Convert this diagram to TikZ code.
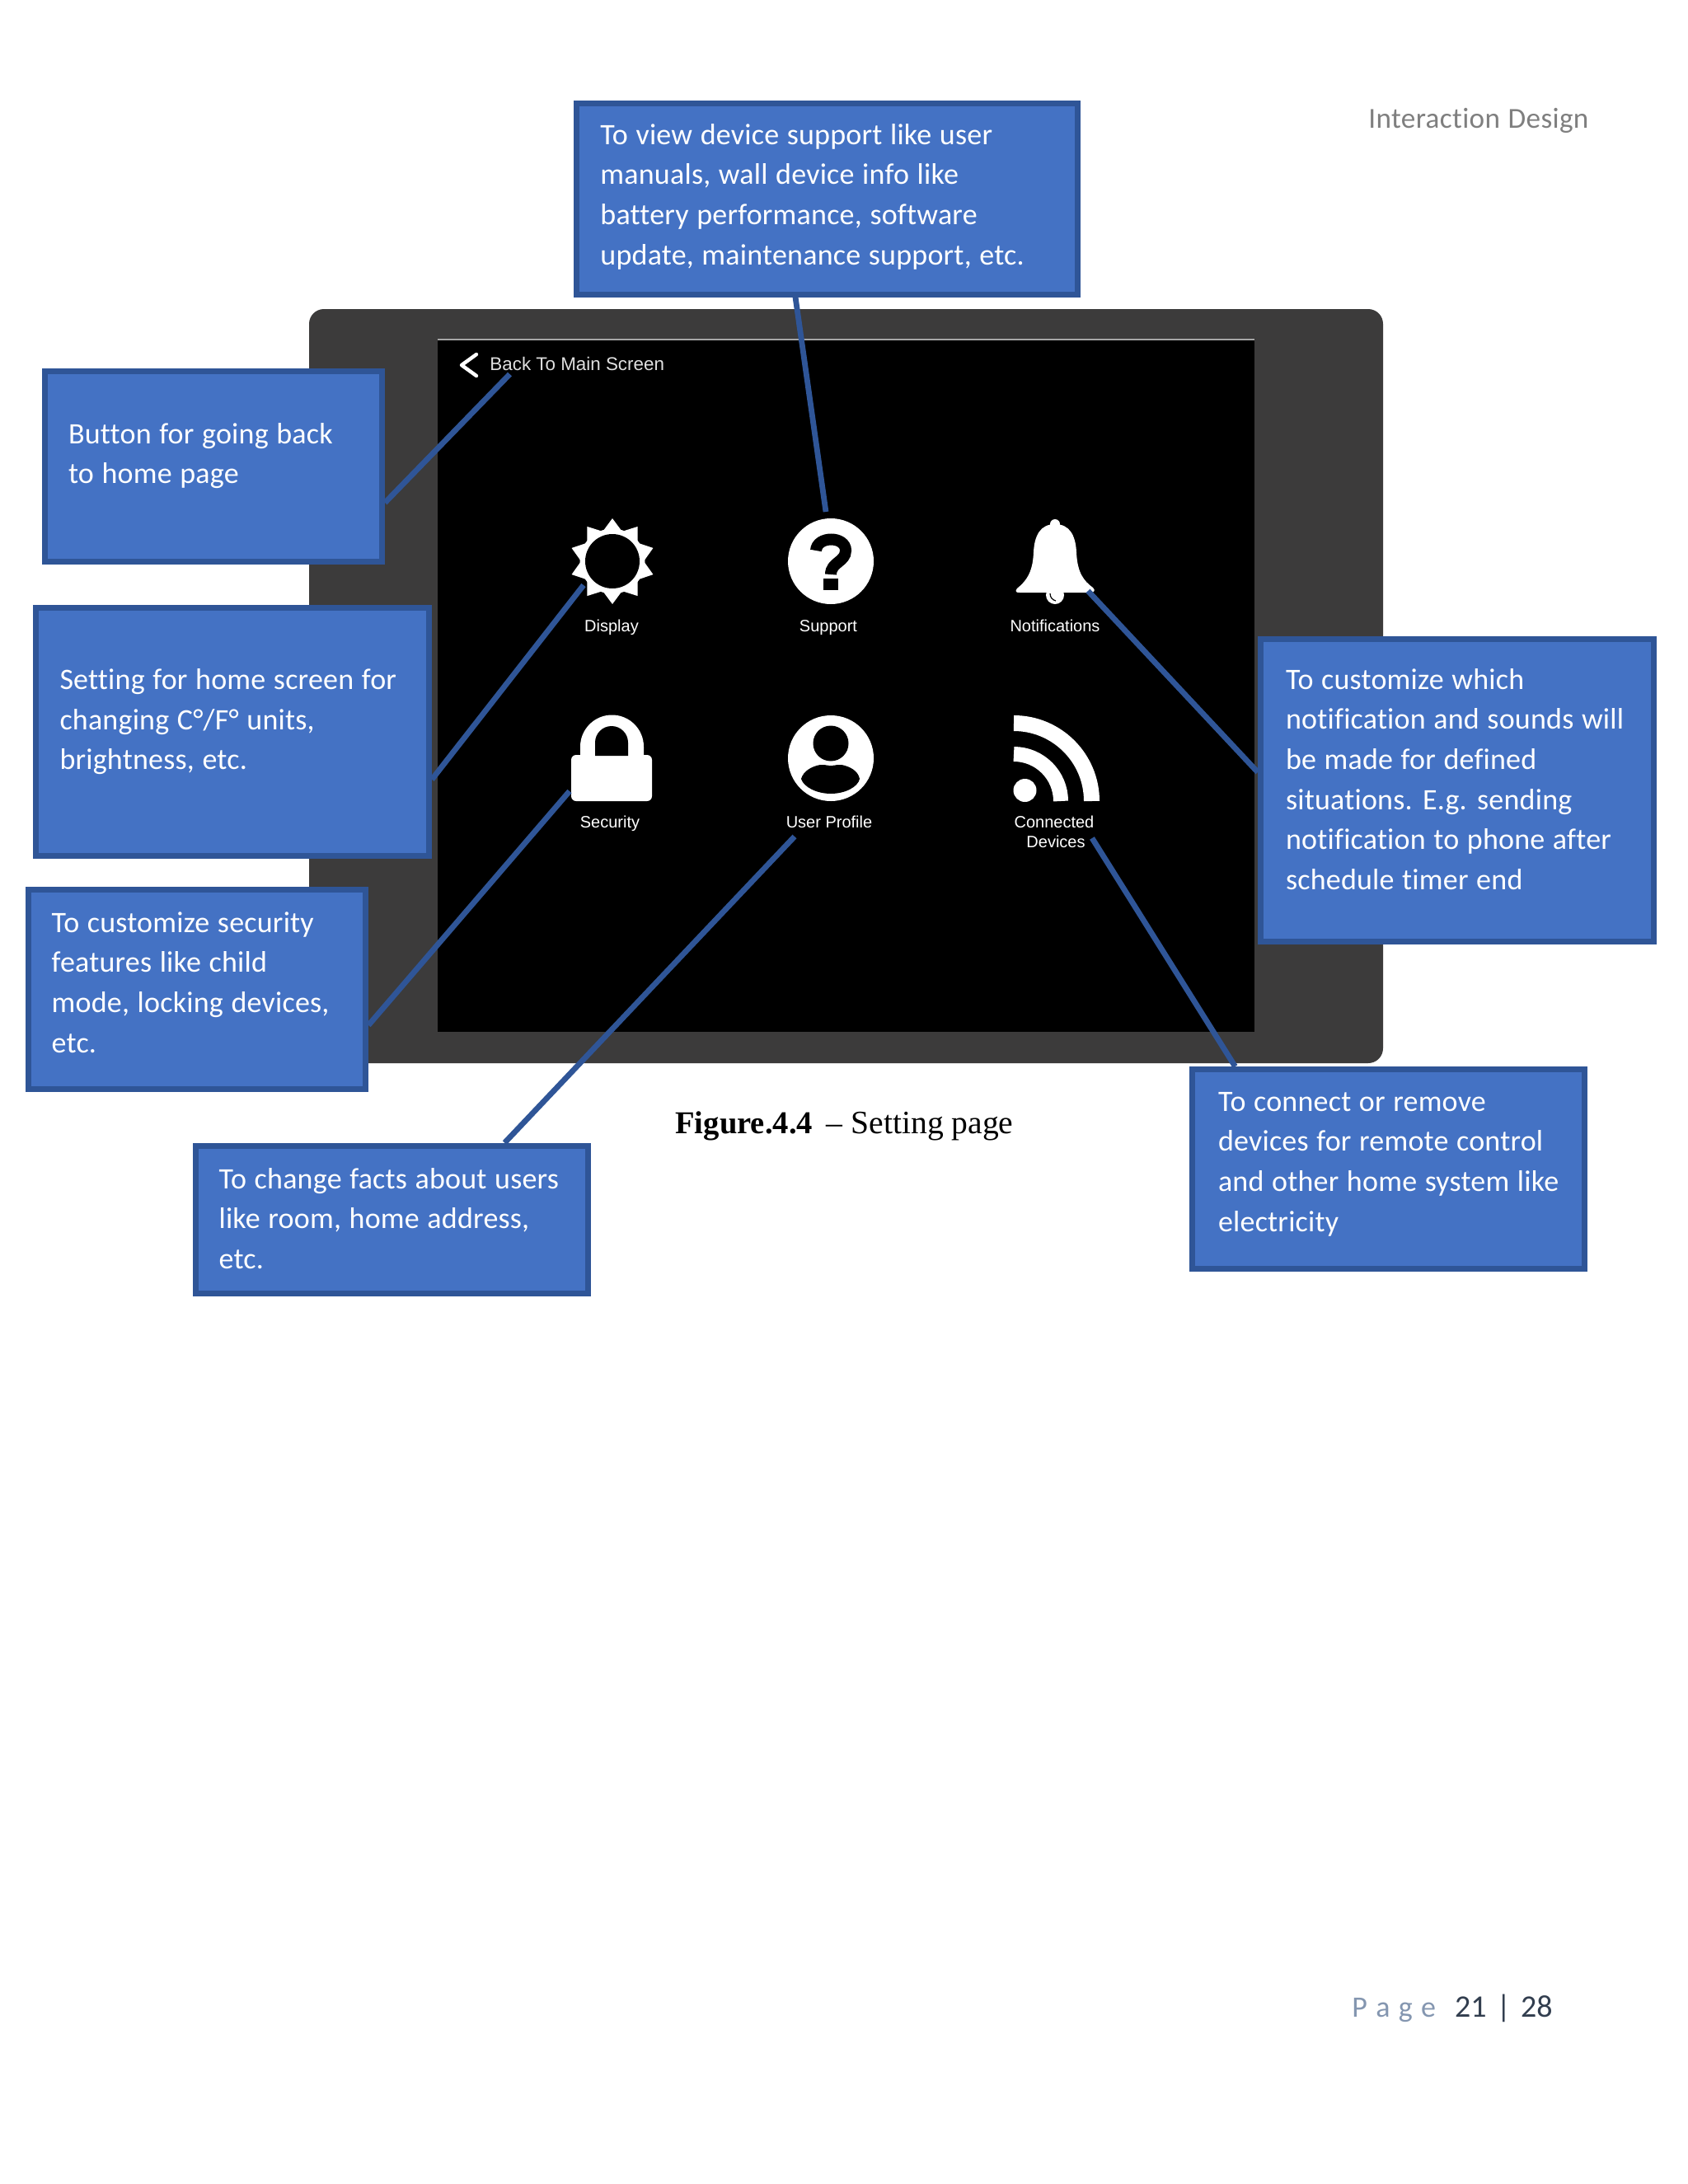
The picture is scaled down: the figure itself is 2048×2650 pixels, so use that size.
\documentclass[tikz,border=0pt]{standalone}
\usepackage{fontspec}
\setmainfont[LetterSpace=0.6,WordSpace=1.15,Ligatures=CommonOff]{Carlito}
\newfontfamily\capfont{Liberation Serif}
\newfontfamily\uifont{Liberation Sans}
\newfontfamily\headfont[LetterSpace=1.0,WordSpace=1.15,Ligatures=CommonOff]{Carlito}
\newfontfamily\pagefont[LetterSpace=6,Ligatures=CommonOff]{Carlito}
\newfontfamily\numfont[WordSpace=1.4]{Carlito}
\definecolor{boxfill}{HTML}{4472C4}
\definecolor{boxline}{HTML}{2F5597}
\definecolor{tabletgray}{HTML}{3C3B3B}
\definecolor{headgray}{HTML}{7F7F7F}
\definecolor{pagelight}{HTML}{8496B0}
\definecolor{pagedark}{HTML}{323E4F}
\tikzset{
  callout/.style={draw=boxline,fill=boxfill,line width=3.5pt,inner sep=0pt,text=white,rectangle},
  conn/.style={draw=boxline,line width=3.4pt},
  uilabel/.style={text=white,inner sep=0pt,anchor=base,font=\uifont\fontsize{10}{12}\selectfont},
}
\newcommand{\cbox}[8]{%
  \pgfmathsetmacro{\cbx}{(#2+#4)/2}%
  \pgfmathsetmacro{\cby}{(#3+#5)/2}%
  \pgfmathsetmacro{\cbw}{(#4-#2)*0.5-3.5}%
  \pgfmathsetmacro{\cbh}{(#5-#3)*0.5-3.5}%
  \pgfmathsetmacro{\cbl}{(#6-#2)*0.5-1.75}%
  \pgfmathsetmacro{\cbt}{(#7-#3)*0.5-1.75-17.045}%
  \node[callout,minimum width=\cbw pt,minimum height=\cbh pt] (#1) at (\cbx,\cby)
   {\parbox[c][\cbh pt][t]{\cbw pt}{\fontsize{18}{24.35}\selectfont\leftskip=\cbl pt\rightskip=0pt plus 1fil\relax\vspace*{\cbt pt}\strut #8\par}};
}
\begin{document}
\begin{tikzpicture}[x=0.5pt,y=-0.5pt]
\useasboundingbox (0,0) rectangle (2048,2650);
\fill[white] (0,0) rectangle (2048,2650);
% tablet and screen
\fill[tabletgray,rounded corners=9pt] (375,375) rectangle (1678,1290);
\fill[black] (531,412) rectangle (1522,1252);
\draw[gray!70,line width=0.7pt] (531,412) -- (1522,412);
% back chevron and label
\draw[white,line width=2.2pt,line join=round,line cap=round] (578,430) -- (560,443) -- (578,456);
\node[uilabel,text=white!88!black,anchor=base west,font=\uifont\fontsize{11.2}{12}\selectfont] (backlabel) at (594,449) {Back To Main Screen};
% sun
\foreach \a in {0,36,...,324}{
  \fill[white] ({743+52*sin(\a)},{681-52*cos(\a)}) -- ({743+38*sin(\a+18)},{681-38*cos(\a+18)}) -- ({743+38*sin(\a-18)},{681-38*cos(\a-18)}) -- cycle;
}
\fill[white] (743,681) circle[radius=39.5];
\fill[black] (743,681) circle[radius=33];
\node[uilabel] (display) at (742,766.5) {Display};
% support
\fill[white] (1008,681) circle[radius=52];
\draw[black,line width=7pt] (990,668) .. controls (991,650) and (1026,650) .. (1026,668) .. controls (1026,682) and (1008,682) .. (1008,697);
\fill[black] (999,702) rectangle (1017,716);
\node[uilabel] (support) at (1005,766.5) {Support};
% bell
\fill[white] (1280,636) circle[radius=6];
\fill[white] (1280,636) .. controls (1262,636) and (1255,650) .. (1254,670) .. controls (1253,695) and (1245,705) .. (1234,714) .. controls (1231,718) and (1233,719) .. (1237,719) -- (1323,719) .. controls (1328,719) and (1329,716) .. (1326,713) .. controls (1315,705) and (1307,695) .. (1306,670) .. controls (1305,650) and (1298,636) .. (1280,636) -- cycle;
\fill[white] (1280,722) circle[radius=11];
\draw[black,line width=0.6pt] (1274,720) .. controls (1274,725) and (1277,728) .. (1281,729);
\node[uilabel] (notifications) at (1280,766.5) {Notifications};
% lock
\fill[white,rounded corners=3pt] (693,916) rectangle (791,972);
\fill[white] (704,920) -- (704,906) arc[start angle=180,end angle=360,radius=38.5] -- (781,920) -- cycle;
\fill[black] (722,917) -- (722,901) arc[start angle=180,end angle=360,radius=20] -- (762,917) -- cycle;
\node[uilabel] (security) at (740,1004.5) {Security};
% user
\fill[white] (1008,920) circle[radius=52];
\fill[black] (972,945) .. controls (975,935) and (985,930) .. (995,928) -- (1021,928) .. controls (1031,930) and (1041,935) .. (1043,945) .. controls (1041,955) and (1025,963) .. (1008,963) .. controls (991,963) and (975,955) .. (972,945) -- cycle;
\fill[white] (1008,902) circle[radius=27];
\fill[black] (1008,902) circle[radius=21.5];
\node[uilabel] (userprofile) at (1006,1004.5) {User Profile};
% rss
\fill[white] (1243.5,959) circle[radius=14];
\draw[white,line width=9pt] (1230,915) arc[start angle=270,end angle=360,radius=57];
\draw[white,line width=9.5pt] (1230,877.5) arc[start angle=270,end angle=360,radius=94.5];
\node[uilabel,align=center,anchor=base] (connected) at (1279,1028.5) {Connected\\\hspace*{2pt}Devices};
% connector ends on the screen
\coordinate (tgtback) at (618.5,454);
\coordinate (tgtsupport) at (1002,621);
\coordinate (tgtdisplay) at (708,710);
\coordinate (tgtsecurity) at (691,960);
\coordinate (tgtuser) at (964,1015);
\coordinate (tgtnoti) at (1320,717);
\coordinate (tgtconn) at (1325,1017);
% callouts
\cbox{cbtop}{695.6}{121.7}{1310.5}{360.7}{728.4}{175}{To view device support like user\\manuals, wall device info like\\battery performance, software\\update, maintenance support, etc.}
\cbox{cbback}{51}{447}{467}{685}{83}{538}{Button for going back\\to home page}
\cbox{cbset}{40}{733.5}{524}{1042}{72.5}{836.5}{Setting for home screen for\\changing C°/F° units,\\brightness, etc.}
\cbox{cbsec}{31}{1076}{447}{1325}{62.7}{1131}{To customize security\\features like child\\mode, locking devices,\\etc.}
\cbox{cbuser}{233.5}{1386.6}{717}{1573}{265.6}{1442}{To change facts about users\\like room, home address,\\etc.}
\cbox{cbnoti}{1526}{772}{2010}{1146}{1560}{836}{To customize which\\notification and sounds will\\be made for defined\\situations. E.g. sending\\notification to phone after\\schedule timer end}
\cbox{cbconn}{1443}{1294}{1926}{1543}{1478}{1348}{To connect or remove\\devices for remote control\\and other home system like\\electricity}
% connectors
\draw[conn] ([yshift=-22pt]cbback.east) -- (tgtback);
\draw[conn] ([xshift=-19pt]cbtop.south) -- (tgtsupport);
\draw[conn] ([yshift=-29pt]cbset.east) -- (tgtdisplay);
\draw[conn] ([yshift=-21.75pt]cbsec.east) -- (tgtsecurity);
\draw[conn] ([xshift=68.5pt]cbuser.north) -- (tgtuser);
\draw[conn] ([yshift=11pt]cbnoti.west) -- (tgtnoti);
\draw[conn] ([xshift=-93pt]cbconn.north) -- (tgtconn);
% page texts
\node[anchor=base west,inner sep=0pt,text=headgray,font=\headfont\fontsize{17.6}{20}\selectfont] (header) at (1660,155) {Interaction Design};
\node[anchor=base west,inner sep=0pt,font=\capfont\fontsize{19.3}{22}\selectfont] (caption) at (819,1375) {\textbf{Figure.4.4}\hspace{8.5pt}{\fontsize{19.8}{22}\selectfont – Setting page}};
\node[anchor=base west,inner sep=0pt,font=\fontsize{18}{20}\selectfont] (pagenum) at (1640,2447) {\textcolor{pagelight}{\pagefont P a g e}\hspace{11.5pt}\textcolor{pagedark}{\numfont\fontsize{19}{20}\selectfont 21 | 28}};
\end{tikzpicture}
\end{document}
